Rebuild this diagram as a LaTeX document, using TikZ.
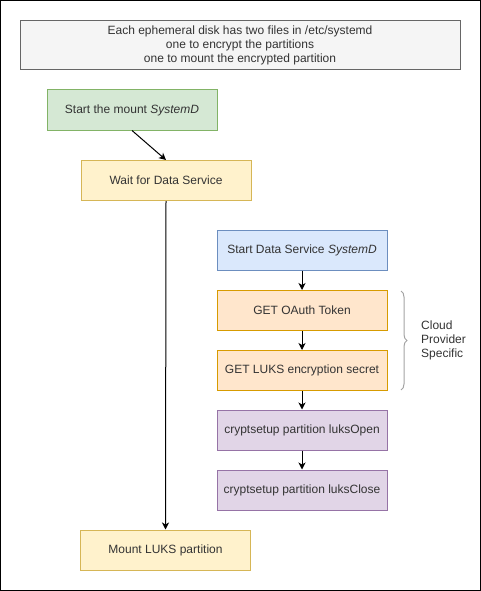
\documentclass[tikz,border=0pt]{standalone}
\usepackage{fontspec}
\setmainfont{Liberation Sans}
\usetikzlibrary{%
    decorations.pathreplacing,%
    arrows.meta
}
\definecolor{notefill}{HTML}{F5F5F5}
\definecolor{notedraw}{HTML}{666666}
\definecolor{notetext}{HTML}{333333}
\definecolor{greenfill}{HTML}{D5E8D4}
\definecolor{greendraw}{HTML}{82B366}
\definecolor{yellowfill}{HTML}{FFF2CC}
\definecolor{yellowdraw}{HTML}{D6B656}
\definecolor{bluefill}{HTML}{DAE8FC}
\definecolor{bluedraw}{HTML}{6C8EBF}
\definecolor{orangefill}{HTML}{FFE6CC}
\definecolor{orangedraw}{HTML}{D79B00}
\definecolor{purplefill}{HTML}{E1D5E7}
\definecolor{purpledraw}{HTML}{9673A6}

\begin{document}
\begin{tikzpicture}[x=1pt,y=-1pt,
    every node/.style={font={\fontsize{12}{14}\selectfont},text=black!80},
    stepbox/.style={draw,line width=1pt,minimum width=170pt,
        minimum height=40pt,inner sep=0pt},
    greenstep/.style={stepbox,fill=greenfill,draw=greendraw},
    yellowstep/.style={stepbox,fill=yellowfill,draw=yellowdraw},
    bluestep/.style={stepbox,fill=bluefill,draw=bluedraw},
    orangestep/.style={stepbox,fill=orangefill,draw=orangedraw},
    purplestep/.style={stepbox,fill=purplefill,draw=purpledraw},
    flow/.style={-{Stealth[length=7pt,width=7pt,inset=2pt]},line width=1pt,black}]
\useasboundingbox (0,0) rectangle (481,591);
\draw[line width=1pt] (0.5,0.5) rectangle (480.5,590.5);

% note on top
\node[draw=notedraw,fill=notefill,line width=1pt,minimum width=440pt,
    minimum height=49pt,inner sep=0pt,align=center,text=notetext]
    (note) at (240,45.5)
    {Each ephemeral disk has two files in /etc/systemd\\
     one to encrypt the partitions\\
     one to mount the encrypted partition};

% mount side
\node[greenstep] (mountsd) at (132,110) {Start the mount \textit{SystemD}};
\node[yellowstep] (wait) at (166,180.5) {Wait for Data Service};
\node[yellowstep] (mountluks) at (165.5,550) {Mount LUKS partition};

% data service side
\node[bluestep] (datasd) at (302,250) {Start Data Service \textit{SystemD}};
\node[orangestep] (oauth) at (302,310.5) {GET OAuth Token};
\node[orangestep] (secret) at (302,370.5) {GET LUKS encryption secret};
\node[purplestep] (open) at (302,430) {cryptsetup partition luksOpen};
\node[purplestep] (close) at (302,490) {cryptsetup partition luksClose};

\draw[flow] (mountsd.south) -- (wait.north);
\draw[flow] (wait.south) -- (mountluks.north);
\draw[flow] (datasd) -- (oauth);
\draw[flow] (oauth) -- (secret);
\draw[flow] (secret) -- (open);
\draw[flow] (open) -- (close);

% brace round the provider steps
\coordinate (bracetop) at (401,291);
\coordinate (bracebot) at (401,390);
\draw[notedraw!60,line width=1pt,decorate,
    decoration={brace,amplitude=6pt}] (bracetop) -- (bracebot);
\node[anchor=west,align=left,inner sep=0pt] (provider) at (421,340)
    {Cloud\\Provider\\Specific};
\end{tikzpicture}
\end{document}
